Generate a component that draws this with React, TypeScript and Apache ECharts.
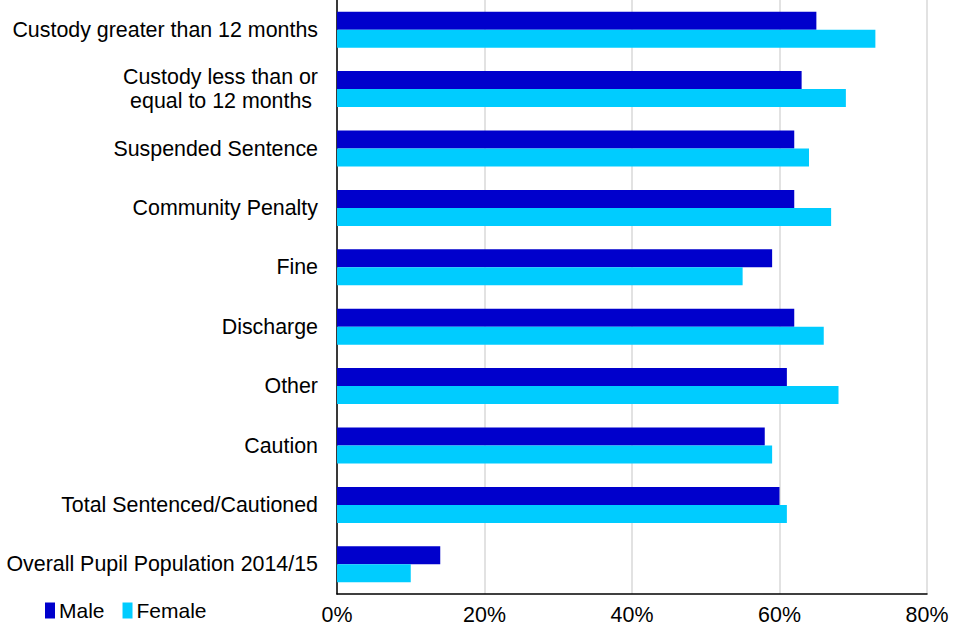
import React, { useEffect, useRef } from "react";
import * as echarts from "echarts";

const categories = [
  "Custody greater than 12 months",
  "Custody less than or\nequal to 12 months ",
  "Suspended Sentence",
  "Community Penalty",
  "Fine",
  "Discharge",
  "Other",
  "Caution",
  "Total Sentenced/Cautioned",
  "Overall Pupil Population 2014/15",
];
const male = [65, 63, 62, 62, 59, 62, 61, 58, 60, 14];
const female = [73, 69, 64, 67, 55, 66, 68, 59, 61, 10];

export default function App() {
  const ref = useRef<HTMLDivElement>(null);
  useEffect(() => {
    const chart = echarts.init(ref.current!, null, { renderer: "svg" });
    const font = "Liberation Sans, Arial, sans-serif";
    chart.setOption({
      animation: false,
      textStyle: { fontFamily: font },
      grid: { left: 337, right: 33, top: 0, bottom: 46, containLabel: false },
      legend: {
        left: 40,
        top: 595,
        icon: "rect",
        itemWidth: 10,
        itemHeight: 16,
        itemGap: 18,
        textStyle: { fontSize: 21, color: "#000", fontFamily: font, padding: [0, 0, 0, -1] },
        data: ["Male", "Female"],
      },
      xAxis: {
        type: "value",
        min: 0,
        max: 80,
        interval: 20,
        axisLine: { show: true, lineStyle: { color: "#000", width: 1.5 } },
        axisTick: { show: false },
        splitLine: { show: true, lineStyle: { color: "#d9d9d9", width: 1.5 } },
        axisLabel: { formatter: "{value}%", fontSize: 21.4, color: "#000", margin: 10, fontFamily: font },
      },
      yAxis: {
        type: "category",
        inverse: true,
        data: categories,
        axisLine: { show: true, lineStyle: { color: "#000", width: 1.5 } },
        axisTick: { show: false },
        axisLabel: { fontSize: 21.4, color: "#000", margin: 19, lineHeight: 24, fontFamily: font, align: "right" },
      },
      series: [
        {
          name: "Male",
          type: "bar",
          data: male,
          itemStyle: { color: "#0000CC" },
          barWidth: 18,
          barGap: "0%",
        },
        {
          name: "Female",
          type: "bar",
          data: female,
          itemStyle: { color: "#00CCFF" },
          barWidth: 18,
          barGap: "0%",
        },
      ],
    });
    return () => chart.dispose();
  }, []);
  return <div ref={ref} style={{ position: "absolute", left: 0, top: 0, width: 960, height: 640 }} />;
}
